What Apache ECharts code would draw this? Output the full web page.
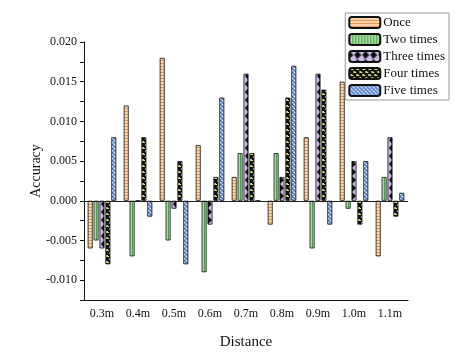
<!DOCTYPE html>
<html><head><meta charset="utf-8">
<script src="https://cdn.jsdelivr.net/npm/echarts@6/dist/echarts.min.js"></script>
<style>html,body{margin:0;padding:0;background:#fff}#c{width:474px;height:360px}</style>
</head><body><div id="c"></div>
<script>
var categories = ['0.3m','0.4m','0.5m','0.6m','0.7m','0.8m','0.9m','1.0m','1.1m'];
var seriesNames = ['Once','Two times','Three times','Four times','Five times'];
var once       = [-0.006, 0.012, 0.018, 0.007, 0.003, -0.003, 0.008, 0.015, -0.007];
var twoTimes   = [-0.005, -0.007, -0.005, -0.009, 0.006, 0.006, -0.006, -0.001, 0.003];
var threeTimes = [-0.006, 0, -0.001, -0.003, 0.016, 0.003, 0.016, 0.005, 0.008];
var fourTimes  = [-0.008, 0.008, 0.005, 0.003, 0.006, 0.013, 0.014, -0.003, -0.002];
var fiveTimes  = [0.008, -0.002, -0.008, 0.013, 0, 0.017, -0.003, 0.005, 0.001];
var allData = [once, twoTimes, threeTimes, fourTimes, fiveTimes];

function mk(w, h, draw) {
  var c = document.createElement('canvas'); c.width = w; c.height = h;
  var g = c.getContext('2d'); draw(g); return c;
}
var patterns = [
  mk(4, 3, function (g) { g.fillStyle = '#FBD4AC'; g.fillRect(0,0,4,3); g.fillStyle = '#E39A5C'; g.fillRect(0,0,4,1); }),
  mk(3, 4, function (g) { g.fillStyle = '#A6DCA0'; g.fillRect(0,0,3,4); g.fillStyle = '#4E9A4E'; g.fillRect(0,0,1,4); }),
  mk(8, 8, function (g) { g.fillStyle = '#C9B8E8'; g.fillRect(0,0,8,8);
    g.fillStyle = '#111'; g.beginPath(); g.moveTo(0,0); g.lineTo(4,4); g.lineTo(0,8); g.closePath(); g.fill();
    g.beginPath(); g.moveTo(8,0); g.lineTo(5,4); g.lineTo(8,8); g.closePath(); g.fill(); }),
  mk(6, 6, function (g) { g.fillStyle = '#111'; g.fillRect(0,0,6,6); g.fillStyle = '#CFCF78'; g.fillRect(1,0,2,2); g.fillRect(4,3,2,2); g.fillStyle='#E8E89A'; g.fillRect(3,1,1,1); g.fillRect(0,4,1,1); }),
  mk(4, 4, function (g) { g.fillStyle = '#8DB1E6'; g.fillRect(0,0,4,4); g.fillStyle = '#3F6CB4'; g.fillRect(0,0,1,1); g.fillRect(2,2,1,1); g.fillRect(1,1,1,1); g.fillRect(3,3,1,1); g.fillStyle='#E6F0FF'; g.fillRect(2,0,1,1); g.fillRect(0,2,1,1); })
];

var serif = '"Liberation Serif", "DejaVu Serif", serif';
var series = seriesNames.map(function (n, i) {
  var s = {
    name: n, type: 'bar', data: allData[i], barWidth: 5, barGap: '18%',
    itemStyle: { color: { image: patterns[i], repeat: 'repeat' }, borderColor: '#111', borderWidth: 0.8 }
  };
  if (i === 0) {
    s.markLine = { silent: true, symbol: ['none','none'], label: { show: false },
      lineStyle: { color: '#222', width: 1, type: 'solid' }, data: [{ yAxis: 0 }] };
  }
  return s;
});

var chart = echarts.init(document.getElementById('c'), null, { renderer: 'canvas' });
chart.setOption({
  animation: false,
  backgroundColor: '#fff',
  grid: { left: 84, right: 66, top: 42, bottom: 60 },
  legend: {
    orient: 'vertical', right: 25, top: 13, itemWidth: 31, itemHeight: 11, itemGap: 4,
    padding: [3, 4, 3, 3], borderColor: '#999', borderWidth: 1, backgroundColor: '#fff',
    textStyle: { fontFamily: serif, fontSize: 13, lineHeight: 13, color: '#111', padding: [0,0,0,-2] },
    data: seriesNames
  },
  xAxis: [{
    type: 'category', data: categories, position: 'bottom',
    name: 'Distance', nameLocation: 'middle', nameGap: 35, nameMoveOverlap: false,
    nameTextStyle: { fontFamily: serif, fontSize: 15, color: '#111' },
    axisLine: { onZero: false, lineStyle: { color: '#111', width: 1 } },
    axisTick: { alignWithLabel: true, length: 5, lineStyle: { color: '#111' } },
    axisLabel: { fontFamily: serif, fontSize: 12, color: '#111', margin: 8 }
  }, {
    type: 'category', data: categories, position: 'bottom', offset: 0,
    axisLine: { show: false }, axisLabel: { show: false },
    axisTick: { length: 3, lineStyle: { color: '#111' } }
  }],
  yAxis: {
    type: 'value', min: -0.0125, max: 0.02, interval: 0.0025,
    name: 'Accuracy', nameLocation: 'middle', nameGap: 41, nameMoveOverlap: false,
    nameTextStyle: { fontFamily: serif, fontSize: 14, color: '#111' },
    axisLine: { show: true, lineStyle: { color: '#111', width: 1 } },
    axisTick: { show: true, length: 4, lineStyle: { color: '#111' } },
    splitLine: { show: false },
    axisLabel: { fontFamily: serif, fontSize: 12, color: '#111', margin: 7,
      formatter: function (v) {
        var r = Math.round(v / 0.005) * 0.005;
        if (Math.abs(r - v) > 1e-9) return '';
        return r.toFixed(3).replace('-0.000', '0.000');
      } }
  },
  series: series
});
</script></body></html>
